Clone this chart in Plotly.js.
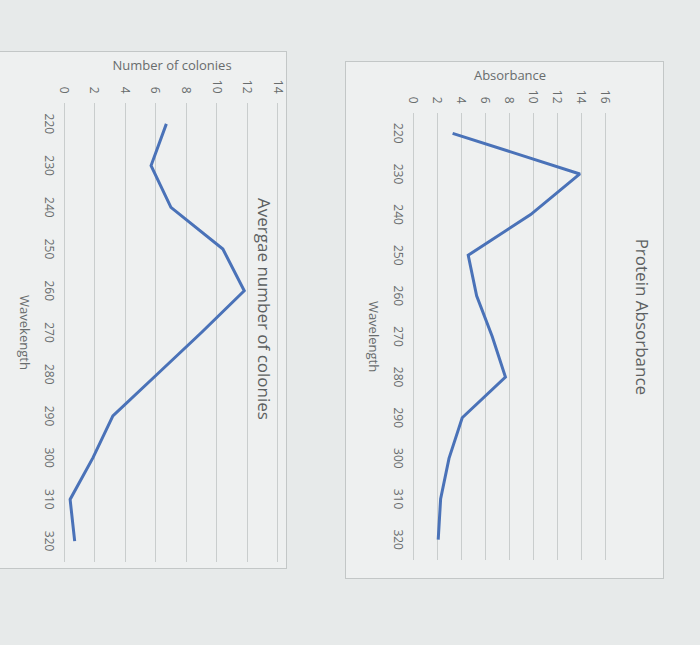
<!DOCTYPE html>
<html>
<head>
<meta charset="utf-8">
<script src="https://cdn.plot.ly/plotly-3.0.1.min.js"></script>
<style>
  html, body { margin: 0; padding: 0; width: 700px; height: 645px; overflow: hidden; background: #e7eaea; }
  .sheet { position: absolute; transform-origin: 0 0; transform: rotate(90deg); outline: 1px solid #c3c7c7; background: #eef0f0; }
  #absorb { left: 663px; top: 62px; width: 516px; height: 317px; }
  #colonies { left: 286px; top: 52px; width: 516px; height: 295px; }
</style>
</head>
<body>
<div id="absorb" class="sheet"></div>
<div id="colonies" class="sheet"></div>
<script>
// the printed page is photographed on its side, so both charts are turned 90deg

// x axis, shared by both charts
const wavelength = [220, 230, 240, 250, 260, 270, 280, 290, 300, 310, 320];

// Protein Absorbance
const absorbance = [3.3, 13.9, 9.8, 4.6, 5.3, 6.6, 7.7, 4.1, 3.0, 2.3, 2.1];
const absorbTicks = [0, 2, 4, 6, 8, 10, 12, 14, 16];

// Avergae number of colonies (typo kept from the print)
const colonies = [6.7, 5.7, 7.0, 10.4, 11.8, 9.0, 6.1, 3.2, 1.9, 0.4, 0.7];
const colonyTicks = [0, 2, 4, 6, 8, 10, 12, 14];

const inkGray = '#686c6d';
const gridGray = '#c9cdcd';

function makeLayout(o) {
  return {
    width: o.w, height: o.h,
    margin: o.margin,
    paper_bgcolor: '#eef0f0',
    plot_bgcolor: '#eef0f0',
    font: {family: '"Open Sans", sans-serif', color: inkGray, size: 12},
    showlegend: false,
    title: {
      text: o.title, font: {size: 17, color: '#5c6061'},
      xref: 'container', yref: 'container',
      x: o.titleX, y: o.titleY, xanchor: 'center', yanchor: 'middle'
    },
    xaxis: {
      range: [215, 325],
      tickvals: wavelength,
      showgrid: false, zeroline: false, showline: false,
      ticks: 'outside', ticklen: 4, tickcolor: 'rgba(0,0,0,0)',
      title: {text: o.xTitle, font: {size: 13, color: inkGray}, standoff: 12}
    },
    yaxis: {
      // a little above the top tick so its gridline is still drawn
      range: [0, o.yMax * 1.01],
      tickvals: o.yTicks,
      ticklabeloverflow: 'allow',
      showgrid: true, gridcolor: gridGray, gridwidth: 1,
      zeroline: true, zerolinecolor: gridGray, zerolinewidth: 1,
      showline: false,
      ticks: 'outside', ticklen: 6, tickcolor: 'rgba(0,0,0,0)',
      title: {text: o.yTitle, font: {size: 13, color: inkGray}, standoff: 6}
    }
  };
}

const lineStyle = {color: '#4a72b8', width: 3};

Plotly.newPlot('absorb',
  [{x: wavelength, y: absorbance, type: 'scatter', mode: 'lines', line: lineStyle}],
  makeLayout({
    w: 516, h: 317,
    margin: {l: 51, r: 18, t: 56, b: 67},
    title: 'Protein Absorbance', titleX: 0.494, titleY: 0.934,
    xTitle: 'Wavelength', yTitle: 'Absorbance',
    yMax: 16, yTicks: absorbTicks
  }),
  {staticPlot: true});

Plotly.newPlot('colonies',
  [{x: wavelength, y: colonies, type: 'scatter', mode: 'lines', line: lineStyle}],
  makeLayout({
    w: 516, h: 295,
    margin: {l: 51, r: 6, t: 6, b: 73},
    title: 'Avergae number of colonies', titleX: 0.498, titleY: 0.925,
    xTitle: 'Wavekength', yTitle: 'Number of colonies',
    yMax: 14, yTicks: colonyTicks
  }),
  {staticPlot: true});
</script>
</body>
</html>
